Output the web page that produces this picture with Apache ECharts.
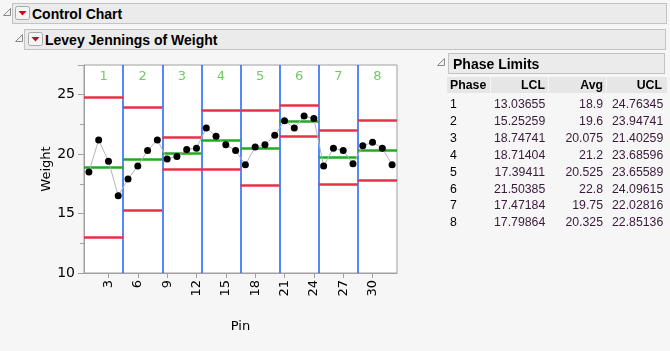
<!DOCTYPE html>
<html><head><meta charset="utf-8">
<script src="https://cdn.jsdelivr.net/npm/echarts@6/dist/echarts.min.js"></script>
<style>
html,body{margin:0;padding:0;background:#f6f6f6;width:670px;height:351px;overflow:hidden;font-family:"Liberation Sans",Arial,sans-serif;}
#chart{position:absolute;left:0;top:0;width:670px;height:351px;}
.bar{position:absolute;background:#ebebeb;border:1px solid #c3c3c3;box-sizing:border-box;font-weight:bold;font-size:14px;color:#000;}
.tri{position:absolute;}
.btn{position:absolute;}
.bar span{position:absolute;top:2px;}
#tbl{position:absolute;left:447px;top:77px;font-size:12.3px;font-family:"Liberation Sans",Arial,sans-serif;}
.cell{position:absolute;height:16px;line-height:16px;white-space:nowrap;}
.hdr{background:#e6e6e6;font-weight:bold;}
</style></head>
<body>
<div id="chart"></div>
<div id="overlay"></div>
<script>
// ---- data ----
var phases = ['1','2','3','4','5','6','7','8'];
var pins = [1,2,3,4,5,6,7,8,9,10,11,12,13,14,15,16,17,18,19,20,21,22,23,24,25,26,27,28,29,30,31,32];
var weights = [18.5,21.2,19.4,16.5, 17.9,19.0,20.3,21.2, 19.6,19.8,20.4,20.5, 22.2,21.5,20.8,20.3,
               19.1,20.6,20.8,21.6, 22.8,22.2,23.2,23.0, 19.0,20.5,20.3,19.2, 20.7,21.0,20.5,19.1];
var lcl = [13.03655,15.25259,18.74741,18.71404,17.39411,21.50385,17.47184,17.79864];
var avg = [18.9,19.6,20.075,21.2,20.525,22.8,19.75,20.325];
var ucl = [24.76345,23.94741,21.40259,23.68596,23.65589,24.09615,22.02816,22.85136];
var avgText = ['18.9','19.6','20.075','21.2','20.525','22.8','19.75','20.325'];
var xTicks = [3,6,9,12,15,18,21,24,27,30];
var yTicks = [10,15,20,25];

// ---- overlay HTML (headers, table) ----
function triIcon(x,y){
  return '<svg class="tri" style="left:'+x+'px;top:'+y+'px" width="10" height="10"><path d="M1.5 8.5 L8.5 8.5 L8.5 1.5 Z" fill="#f2f2f2" stroke="#8a8a8a" stroke-width="1"/></svg>';
}
function btnIcon(x,y){
  return '<svg class="btn" style="left:'+x+'px;top:'+y+'px" width="15" height="14"><rect x="0.5" y="0.5" width="14" height="13" rx="2" fill="#f4f4f4" stroke="#a8a8a8"/><path d="M3.5 5 L11.5 5 L7.5 9.5 Z" fill="#d0021b"/></svg>';
}
var html = '';
html += triIcon(2,7);
html += '<div class="bar" style="left:12px;top:3px;width:655px;height:21px"><span style="left:19px">Control Chart</span></div>';
html += btnIcon(15,6);
html += triIcon(14,33);
html += '<div class="bar" style="left:24px;top:29px;width:642px;height:21px"><span style="left:20px">Levey Jennings of Weight</span></div>';
html += btnIcon(28,32);
html += triIcon(436,57);
html += '<div class="bar" style="left:448px;top:53px;width:217px;height:21px"><span style="left:4px">Phase Limits</span></div>';
html += '<div id="tbl">';
var cols = [{l:0,w:43,align:'left',pad:3},{l:44,w:57,align:'right',pad:3},{l:102,w:57,align:'right',pad:3},{l:160,w:60,align:'right',pad:5}];
var hdrs = ['Phase','LCL','Avg','UCL'];
for (var c=0;c<4;c++){
  html += '<div class="cell hdr" style="left:'+cols[c].l+'px;top:0;width:'+cols[c].w+'px;text-align:'+cols[c].align+'"><span style="padding:0 '+cols[c].pad+'px">'+hdrs[c]+'</span></div>';
}
for (var r=0;r<phases.length;r++){
  var vals = [phases[r], lcl[r].toFixed(5), avgText[r], ucl[r].toFixed(5)];
  for (var c=0;c<4;c++){
    html += '<div class="cell" style="left:'+cols[c].l+'px;top:'+(19+r*16.9)+'px;width:'+cols[c].w+'px;text-align:'+cols[c].align+';color:'+(c==0?'#000':'#3a1a3a')+'"><span style="padding:0 '+cols[c].pad+'px">'+vals[c]+'</span></div>';
  }
}
html += '</div>';
document.getElementById('overlay').innerHTML = html;

// ---- chart ----
var chart = echarts.init(document.getElementById('chart'));
var pts = pins.map(function(p,i){return [p, weights[i]];});
function limitLines(arr){
  return arr.map(function(v,i){return [{coord:[0.5+4*i, v]},{coord:[4.5+4*i, v]}];});
}
var bounds = [];
for (var i=1;i<phases.length;i++) bounds.push({xAxis:0.5+4*i});
var labelPts = phases.map(function(p,i){return {value:[2.5+4*i, 26.5], name:p};});

chart.setOption({
  animation:false,
  textStyle:{fontFamily:'"DejaVu Sans","Liberation Sans",sans-serif'},
  grid:{left:84,top:65,width:313,height:208,show:true,backgroundColor:'#fff',borderColor:'#a0a0a0',borderWidth:1},
  xAxis:{type:'value',min:0.5,max:32.5,name:'Pin',nameLocation:'middle',nameGap:47,
    nameTextStyle:{fontSize:13,color:'#000'},
    splitLine:{show:false},
    axisLine:{lineStyle:{color:'#a0a0a0'}},
    axisTick:{customValues:xTicks,length:5,lineStyle:{color:'#a0a0a0'}},
    axisLabel:{customValues:xTicks,rotate:90,fontSize:13,color:'#000',margin:7}},
  yAxis:{type:'value',min:10,max:27.5,interval:5,name:'Weight',nameLocation:'middle',nameGap:31,
    nameTextStyle:{fontSize:13,color:'#000'},
    splitLine:{show:false},
    axisLine:{show:true,lineStyle:{color:'#a0a0a0'}},
    axisTick:{show:true,length:6,lineStyle:{color:'#a0a0a0'}},
    minorTick:{show:true,splitNumber:2,length:4,lineStyle:{color:'#a0a0a0'}},
    axisLabel:{fontSize:14,color:'#000',margin:9,
      customValues:yTicks}},
  series:[
    {type:'line',data:[],silent:true,
      markLine:{symbol:'none',silent:true,label:{show:false},
        lineStyle:{color:'#1f5fff',width:1.5,type:'solid'},data:bounds}},
    {type:'line',data:[],silent:true,
      markLine:{symbol:'none',silent:true,label:{show:false},
        lineStyle:{color:'#e8304a',width:2.5,type:'solid'},data:limitLines(ucl).concat(limitLines(lcl))}},
    {type:'line',data:[],silent:true,
      markLine:{symbol:'none',silent:true,label:{show:false},
        lineStyle:{color:'#22aa22',width:2.5,type:'solid'},data:limitLines(avg)}},
    {type:'line',data:pts,symbol:'circle',symbolSize:7,
      lineStyle:{color:'#b4b4b4',width:1},itemStyle:{color:'#000'},z:5},
    {type:'scatter',data:labelPts,symbolSize:0,
      label:{show:true,position:'inside',formatter:function(p){return p.name;},color:'#4cbb3c',fontSize:13}}
  ]
});
</script>
</body></html>
